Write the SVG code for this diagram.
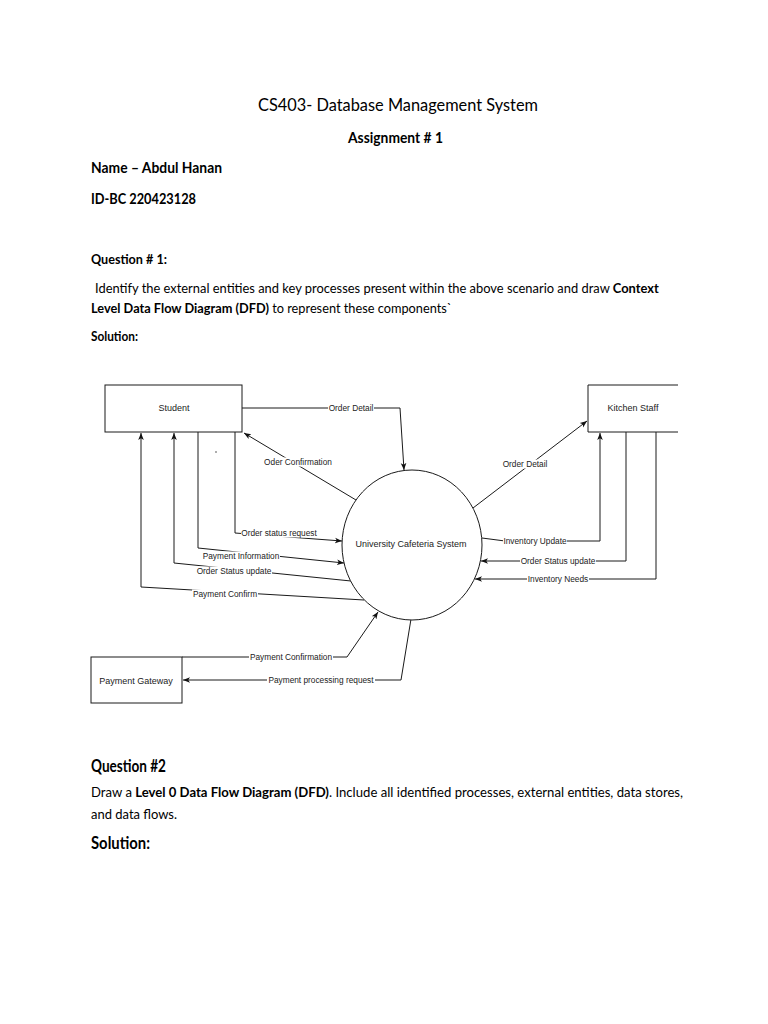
<svg xmlns="http://www.w3.org/2000/svg" width="768" height="1024" viewBox="0 0 768 1024">
<style>
.doc{font-family:Lato,"Open Sans","Liberation Sans",sans-serif;fill:#000}
.b{font-weight:bold}
.node{fill:#fff;stroke:#1a1a1a;stroke-width:1}
.nt{font-family:"Liberation Sans",Arial,sans-serif;font-size:9px;fill:#222;text-anchor:middle}
.el{stroke:#1a1a1a;stroke-width:1;fill:none}
.bg{fill:#fff}
.lb{font-family:"Liberation Sans",Arial,sans-serif;font-size:8.3px;fill:#222;text-anchor:middle}
</style>
<defs>
<marker id="arr" viewBox="0 0 10 10" refX="10" refY="5" markerWidth="7" markerHeight="7" orient="auto" markerUnits="userSpaceOnUse">
<path d="M0,1 L10,5 L0,9 L2.5,5 z" fill="#111"/>
</marker>
</defs>
<rect width="768" height="1024" fill="#fff"/>

<g id="document-text">
<text class="doc" x="258" y="111" font-size="17.5" textLength="280" lengthAdjust="spacingAndGlyphs">CS403- Database Management System</text>
<text class="doc b" x="348" y="143" font-size="15" textLength="95" lengthAdjust="spacingAndGlyphs">Assignment # 1</text>
<text class="doc b" x="91" y="173" font-size="15" textLength="131" lengthAdjust="spacingAndGlyphs">Name – Abdul Hanan</text>
<text class="doc b" x="91" y="204" font-size="15" textLength="105" lengthAdjust="spacingAndGlyphs">ID-BC 220423128</text>
<text class="doc b" x="91" y="264" font-size="13.5" textLength="76" lengthAdjust="spacingAndGlyphs">Question # 1:</text>
<text class="doc" x="95" y="293" font-size="12.9">Identify the external entities and key processes present within the above scenario and draw <tspan class="b">Context</tspan></text>
<text class="doc" x="91" y="313" font-size="13.2" textLength="361" lengthAdjust="spacingAndGlyphs"><tspan class="b">Level Data Flow Diagram (DFD)</tspan> to represent these components`</text>
<text class="doc b" x="91" y="341" font-size="13.5" textLength="47" lengthAdjust="spacingAndGlyphs">Solution:</text>
<text class="doc b" x="91" y="772" font-size="16.5" textLength="75" lengthAdjust="spacingAndGlyphs">Question #2</text>
<text class="doc" x="91" y="797" font-size="13.2" textLength="592" lengthAdjust="spacingAndGlyphs">Draw a <tspan class="b">Level 0 Data Flow Diagram (DFD)</tspan>. Include all identified processes, external entities, data stores,</text>
<text class="doc" x="91" y="819" font-size="13.2" textLength="86" lengthAdjust="spacingAndGlyphs">and data flows.</text>
<text class="doc b" x="91" y="849" font-size="16.5" textLength="59" lengthAdjust="spacingAndGlyphs">Solution:</text>
</g>

<g id="connectors">
<path class="el" d="M242,408 H400 L404,470" marker-end="url(#arr)"/>
<path class="el" d="M356,500 L244,433" marker-end="url(#arr)"/>
<path class="el" d="M473,508 L587,421" marker-end="url(#arr)"/>
<path class="el" d="M235,432 V533 L342,541" marker-end="url(#arr)"/>
<path class="el" d="M198,432 V548 L344,563" marker-end="url(#arr)"/>
<path class="el" d="M351,581 L174,563 V433" marker-end="url(#arr)"/>
<path class="el" d="M364,600 L141,587 V433" marker-end="url(#arr)"/>
<path class="el" d="M482,538 L505,541 H600 V433" marker-end="url(#arr)"/>
<path class="el" d="M626,432 V561 H481" marker-end="url(#arr)"/>
<path class="el" d="M656,432 V579 H475" marker-end="url(#arr)"/>
<path class="el" d="M182,657 H347 L378,612" marker-end="url(#arr)"/>
<path class="el" d="M411,619 L401,680 H183" marker-end="url(#arr)"/>
<rect class="bg" x="328" y="403.5" width="46" height="9"/>
<rect class="bg" x="264" y="457.5" width="68" height="9"/>
<rect class="bg" x="241" y="528.5" width="76" height="9"/>
<rect class="bg" x="202" y="551.5" width="78" height="9"/>
<rect class="bg" x="197" y="566.5" width="75" height="9"/>
<rect class="bg" x="192" y="589.5" width="66" height="9"/>
<rect class="bg" x="502" y="459.5" width="46" height="9"/>
<rect class="bg" x="503" y="536.5" width="64" height="9"/>
<rect class="bg" x="520" y="556.5" width="76" height="9"/>
<rect class="bg" x="527" y="574.5" width="62" height="9"/>
<rect class="bg" x="249" y="652.5" width="84" height="9"/>
<rect class="bg" x="267" y="675.5" width="108" height="9"/>
<text class="lb" x="351" y="411">Order Detail</text>
<text class="lb" x="298" y="465">Oder Confirmation</text>
<text class="lb" x="525" y="467">Order Detail</text>
<text class="lb" x="279" y="536">Order status request</text>
<text class="lb" x="241" y="559">Payment Information</text>
<text class="lb" x="234" y="574">Order Status update</text>
<text class="lb" x="225" y="597">Payment Confirm</text>
<text class="lb" x="535" y="544">Inventory Update</text>
<text class="lb" x="558" y="564">Order Status update</text>
<text class="lb" x="558" y="582">Inventory Needs</text>
<text class="lb" x="291" y="660">Payment Confirmation</text>
<text class="lb" x="321" y="683">Payment processing request</text>
</g>

<g id="student">
<rect class="node" x="105" y="385" width="137" height="47"/>
<text class="nt" x="174" y="411">Student</text>
</g>
<circle cx="216" cy="452" r="0.8" fill="#444"/>

<g id="kitchen-staff">
<rect x="588" y="385" width="90" height="47" fill="#fff"/>
<path class="el" d="M678,385 H588 V432 H678"/>
<text class="nt" x="633" y="411">Kitchen Staff</text>
</g>

<g id="university-cafeteria-system">
<ellipse class="node" cx="412" cy="545" rx="70" ry="75"/>
<text class="nt" x="411" y="547">University Cafeteria System</text>
</g>

<g id="payment-gateway">
<rect class="node" x="91" y="657" width="91" height="46"/>
<text class="nt" x="136" y="684">Payment Gateway</text>
</g>
</svg>
